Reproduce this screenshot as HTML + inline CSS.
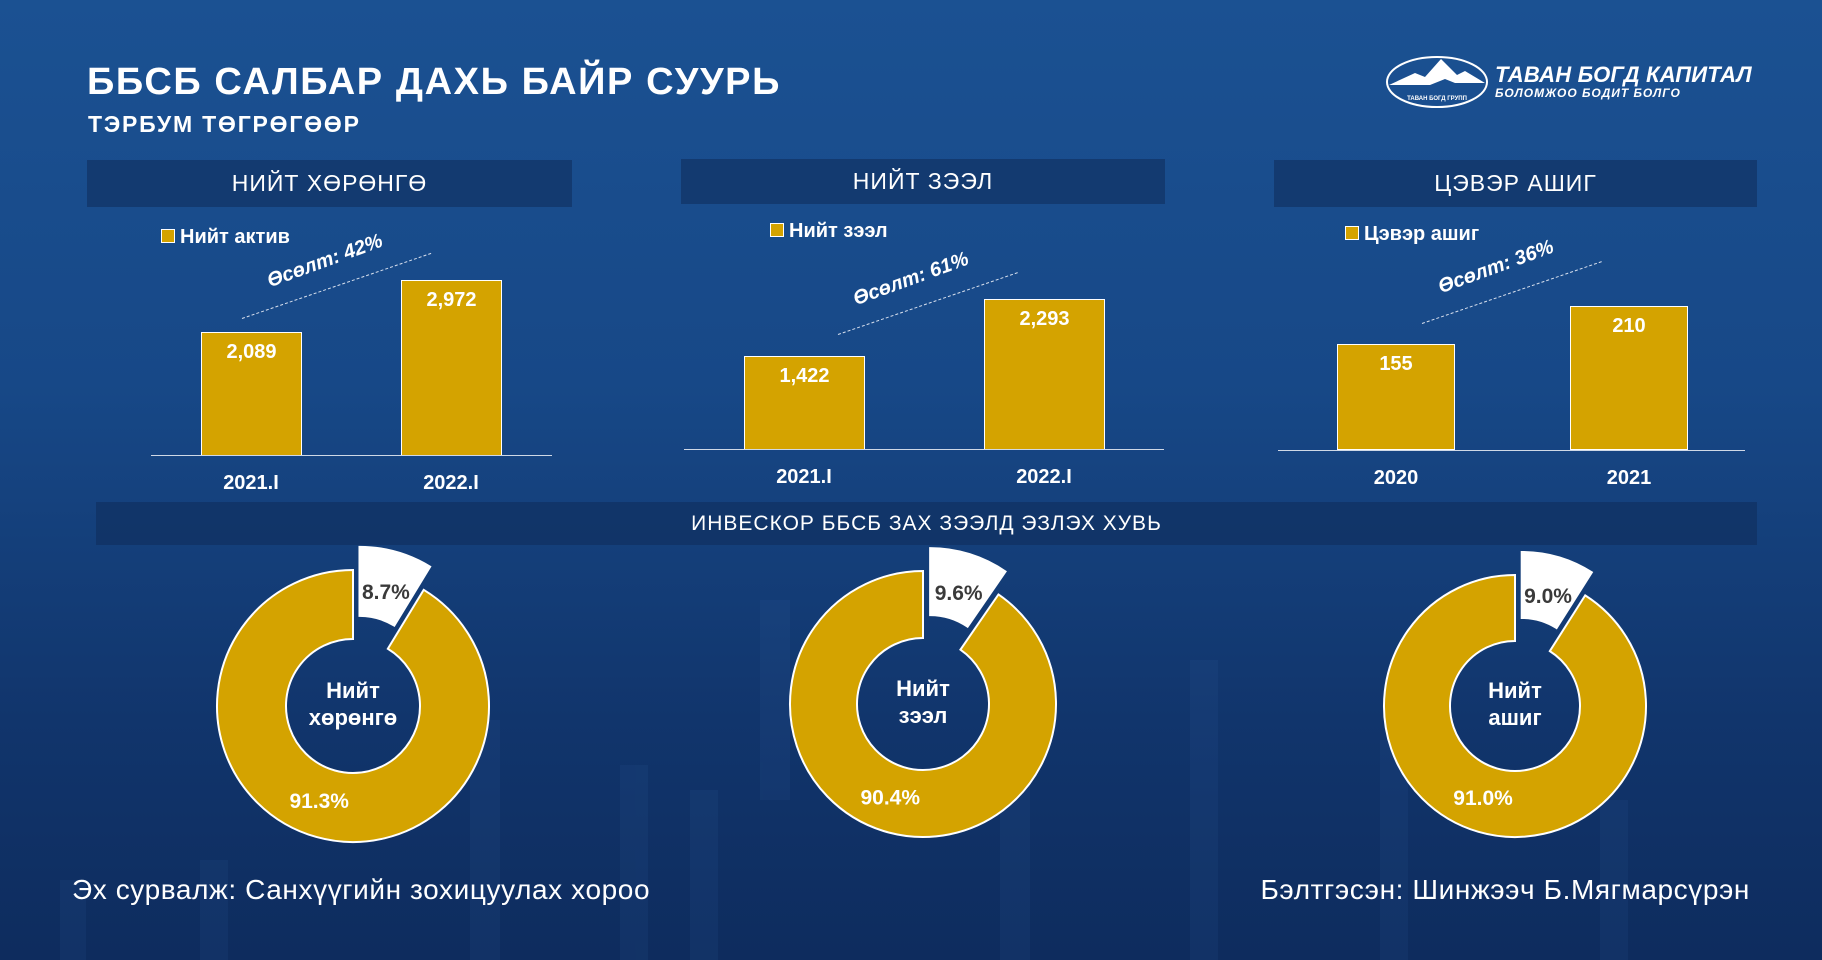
<!DOCTYPE html>
<html><head><meta charset="utf-8">
<style>
html,body{margin:0;padding:0}
body{width:1822px;height:960px;overflow:hidden;position:relative;font-family:"Liberation Sans",sans-serif;color:#fff;
background:linear-gradient(180deg,#1b5192 0%,#174887 40%,#11356c 75%,#0e2c5e 100%);}
.abs{position:absolute}
.hdr{position:absolute;background:rgba(14,44,90,0.55);color:#fff;text-align:center;font-size:23px;letter-spacing:1px}
.bar{position:absolute;background:#d4a300;border:1px solid #fff;box-sizing:border-box;text-align:center;font-weight:bold;font-size:20px;padding-top:8px}
.base{position:absolute;height:1px;background:#cfd8e6}
.yr{position:absolute;font-weight:bold;font-size:20px;text-align:center;width:140px}
.leg{position:absolute;font-weight:bold;font-size:20px}
.leg i{display:inline-block;width:12px;height:12px;background:#d4a300;border:1px solid #fff;margin-right:5px;vertical-align:0px}
.gr{position:absolute;font-weight:bold;font-size:20px;font-style:italic;transform:rotate(-20deg);transform-origin:left bottom;white-space:nowrap}
.dl{position:absolute;height:0;border-top:1px dashed #d8e0ee;transform-origin:left center}
</style></head><body>
<svg class="abs" style="left:0;top:0" width="1822" height="960">
<g fill="#3b6fb0" opacity="0.1">
<rect x="60" y="880" width="26" height="80"/><rect x="200" y="860" width="28" height="100"/>
<rect x="470" y="720" width="30" height="240"/><rect x="620" y="765" width="28" height="195"/>
<rect x="690" y="790" width="28" height="170"/><rect x="760" y="600" width="30" height="200"/>
<rect x="1000" y="780" width="30" height="180"/><rect x="1190" y="660" width="28" height="300"/>
<rect x="1380" y="740" width="28" height="220"/><rect x="1600" y="800" width="28" height="160"/>
</g>
</svg>
<div class="abs" style="left:87px;top:61px;font-size:38px;font-weight:bold;letter-spacing:1.6px">ББСБ САЛБАР ДАХЬ БАЙР СУУРЬ</div>
<div class="abs" style="left:88px;top:111px;font-size:23px;font-weight:bold;letter-spacing:1.8px">ТЭРБУМ ТӨГРӨГӨӨР</div>
<!-- logo -->
<svg class="abs" style="left:1385px;top:55px" width="110" height="56">
<ellipse cx="52" cy="27" rx="50" ry="25" fill="none" stroke="#fff" stroke-width="2"/>
<path d="M4 30 L30 18 L40 22 L56 4 L72 20 L80 16 L100 28 L70 28 L60 24 L45 30 Z" fill="#fff"/>
<text x="52" y="45" font-size="6" fill="#fff" text-anchor="middle" font-weight="bold" font-family="Liberation Sans">ТАВАН БОГД ГРУПП</text>
</svg>
<div class="abs" style="left:1495px;top:62px;font-size:22px;font-weight:bold;font-style:italic;letter-spacing:0.2px">ТАВАН БОГД КАПИТАЛ</div>
<div class="abs" style="left:1495px;top:86px;font-size:12px;font-weight:bold;font-style:italic;letter-spacing:1px">БОЛОМЖОО БОДИТ БОЛГО</div>

<div class="hdr" style="left:87px;top:160px;width:485px;height:47px;line-height:47px">НИЙТ ХӨРӨНГӨ</div>
<div class="hdr" style="left:681px;top:159px;width:484px;height:45px;line-height:45px">НИЙТ ЗЭЭЛ</div>
<div class="hdr" style="left:1274px;top:160px;width:483px;height:47px;line-height:47px">ЦЭВЭР АШИГ</div>

<div class="leg" style="left:161px;top:226px"><i></i>Нийт актив</div>
<div class="leg" style="left:770px;top:220px"><i></i>Нийт зээл</div>
<div class="leg" style="left:1345px;top:223px"><i></i>Цэвэр ашиг</div>

<!-- chart 1 -->
<div class="dl" style="left:242px;top:318px;width:200px;transform:rotate(-19deg)"></div>
<div class="gr" style="left:272px;top:270px">Өсөлт: 42%</div>
<div class="bar" style="left:201px;top:332px;width:101px;height:124px">2,089</div>
<div class="bar" style="left:401px;top:280px;width:101px;height:176px">2,972</div>
<div class="base" style="left:151px;top:455px;width:401px"></div>
<div class="yr" style="left:181px;top:472px">2021.I</div>
<div class="yr" style="left:381px;top:472px">2022.I</div>

<!-- chart 2 -->
<div class="dl" style="left:838px;top:334px;width:190px;transform:rotate(-19deg)"></div>
<div class="gr" style="left:858px;top:288px">Өсөлт: 61%</div>
<div class="bar" style="left:744px;top:356px;width:121px;height:94px">1,422</div>
<div class="bar" style="left:984px;top:299px;width:121px;height:151px">2,293</div>
<div class="base" style="left:684px;top:449px;width:480px"></div>
<div class="yr" style="left:734px;top:466px">2021.I</div>
<div class="yr" style="left:974px;top:466px">2022.I</div>

<!-- chart 3 -->
<div class="dl" style="left:1422px;top:323px;width:190px;transform:rotate(-19deg)"></div>
<div class="gr" style="left:1443px;top:276px">Өсөлт: 36%</div>
<div class="bar" style="left:1337px;top:344px;width:118px;height:106px">155</div>
<div class="bar" style="left:1570px;top:306px;width:118px;height:144px">210</div>
<div class="base" style="left:1278px;top:450px;width:467px"></div>
<div class="yr" style="left:1326px;top:467px">2020</div>
<div class="yr" style="left:1559px;top:467px">2021</div>

<div class="hdr" style="left:96px;top:502px;width:1661px;height:43px;line-height:43px;font-size:21px">ИНВЕСКОР ББСБ ЗАХ ЗЭЭЛД ЭЗЛЭХ ХУВЬ</div>

<svg id="don" class="abs" style="left:0;top:0" width="1822" height="960"></svg>

<div class="abs" style="left:72px;top:874px;font-size:28px;letter-spacing:0.6px">Эх сурвалж: Санхүүгийн зохицуулах хороо</div>
<div class="abs" style="right:72px;top:874px;font-size:28px;letter-spacing:0.6px">Бэлтгэсэн: Шинжээч Б.Мягмарсүрэн</div>

<script>
var s=document.getElementById('don'),h='';
function pt(cx,cy,r,a){a=(a-90)*Math.PI/180;return [cx+r*Math.cos(a),cy+r*Math.sin(a)];}
function arc(cx,cy,R,r,a0,a1){var l=(a1-a0)>180?1:0;var p1=pt(cx,cy,R,a0),p2=pt(cx,cy,R,a1),p3=pt(cx,cy,r,a1),p4=pt(cx,cy,r,a0);
return 'M'+p1+' A'+R+','+R+' 0 '+l+' 1 '+p2+' L'+p3+' A'+r+','+r+' 0 '+l+' 0 '+p4+' Z';}
function d(cx,cy,R,r,p,c1,c2){
 var a=p*3.6,m=a/2,off=pt(0,0,24,m);
 h+='<path d="'+arc(cx,cy,R,r,a,360)+'" fill="#d4a300" stroke="#fff" stroke-width="2"/>';
 h+='<path d="'+arc(cx+off[0],cy+off[1],R,r,0,a)+'" fill="#fff" stroke="#fff" stroke-width="2"/>';
 var lp=pt(cx+off[0],cy+off[1],(R+r)/2,m);
 h+='<text x="'+(lp[0]-1)+'" y="'+(lp[1]+14)+'" fill="#3a3a3a" font-size="21" font-weight="bold" text-anchor="middle" font-family="Liberation Sans">'+p.toFixed(1)+'%</text>';
 var q=pt(cx,cy,(R+r)/2,212);
 h+='<text x="'+(q[0]+20)+'" y="'+(q[1]+16)+'" fill="#fff" font-size="21" font-weight="bold" text-anchor="middle" font-family="Liberation Sans">'+(100-p).toFixed(1)+'%</text>';
 h+='<text x="'+cx+'" y="'+(cy-8)+'" fill="#fff" font-size="22" font-weight="bold" text-anchor="middle" font-family="Liberation Sans">'+c1+'</text>';
 h+='<text x="'+cx+'" y="'+(cy+19)+'" fill="#fff" font-size="22" font-weight="bold" text-anchor="middle" font-family="Liberation Sans">'+c2+'</text>';
}
d(353,706,136,67,8.7,'Нийт','хөрөнгө');
d(923,704,133,66,9.6,'Нийт','зээл');
d(1515,706,131,65,9.0,'Нийт','ашиг');
s.innerHTML=h;
</script>
</body></html>
